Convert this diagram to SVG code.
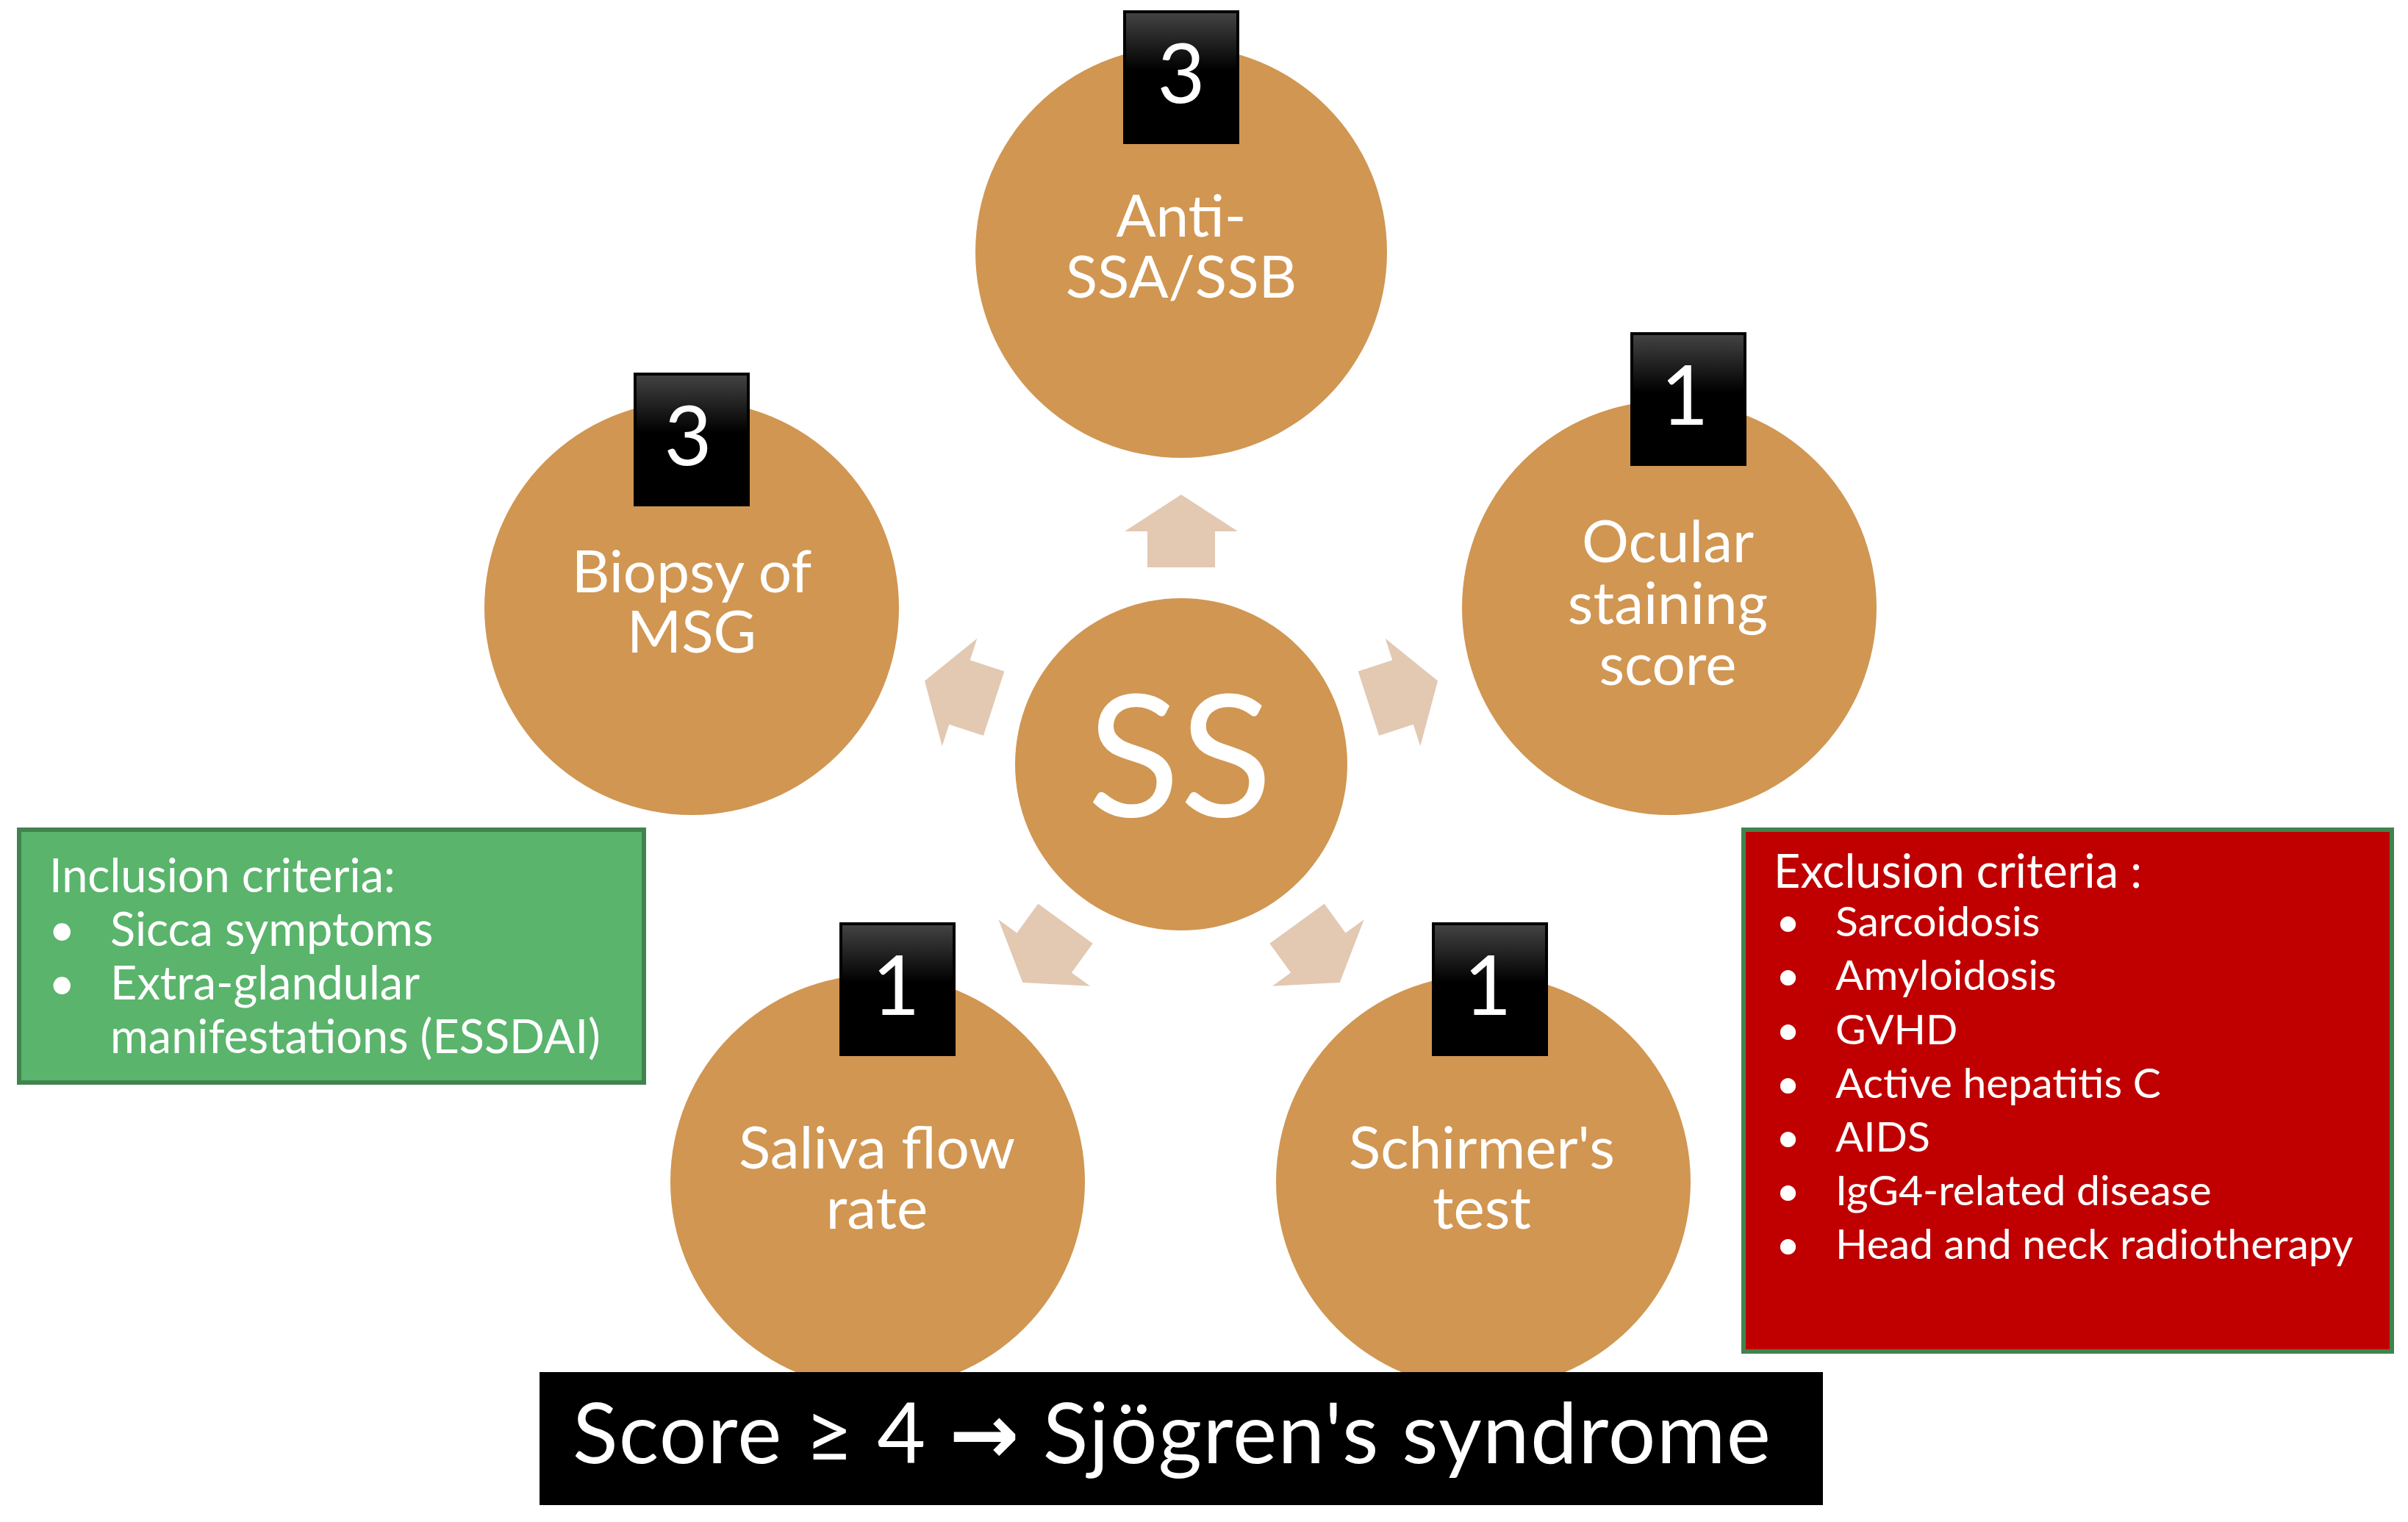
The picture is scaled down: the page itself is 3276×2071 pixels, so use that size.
<svg xmlns="http://www.w3.org/2000/svg" xmlns:xlink="http://www.w3.org/1999/xlink" width="3276" height="2071" viewBox="0 0 3276 2071">
<defs>
  <linearGradient id="badgeGrad" x1="0" y1="0" x2="0" y2="1">
    <stop offset="0" stop-color="#444444"/>
    <stop offset="0.45" stop-color="#000000"/>
  </linearGradient>
  <path id="arrowShape" d="M0,-367 L77,-317 L46,-317 L46,-268 L-46,-268 L-46,-317 L-77,-317 Z"/>
</defs>
<style>
  .circle{fill:#D09652}
  .lbl{font-family:Lato,"Open Sans",sans-serif;fill:#ffffff;text-anchor:middle;font-size:80px}
  .badge{fill:url(#badgeGrad);stroke:#000000;stroke-width:4}
  .num{font-family:Lato,"Open Sans",sans-serif;fill:#ffffff;font-size:112px;text-anchor:middle}
  .arrow{fill:#E3C8B2}
  .boxtxt{font-family:Lato,"Open Sans",sans-serif;fill:#ffffff;font-size:63px}
  .item{font-family:Lato,"Open Sans",sans-serif;fill:#ffffff;font-size:57px}
</style>
<rect width="3276" height="2071" fill="#ffffff"/>

<g id="connectors">
  <use xlink:href="#arrowShape" class="arrow" transform="translate(1607,1040)"/>
  <use xlink:href="#arrowShape" class="arrow" transform="translate(1607,1040) rotate(72)"/>
  <use xlink:href="#arrowShape" class="arrow" transform="translate(1607,1040) rotate(144)"/>
  <use xlink:href="#arrowShape" class="arrow" transform="translate(1607,1040) rotate(-144)"/>
  <use xlink:href="#arrowShape" class="arrow" transform="translate(1607,1040) rotate(-72)"/>
</g>

<g id="node-ss">
  <circle class="circle" cx="1607" cy="1040" r="226"/>
  <text class="lbl" x="1605" y="1111" style="font-size:232px">SS</text>
</g>

<g id="node-anti">
  <circle class="circle" cx="1607" cy="343" r="280"/>
  <text class="lbl" x="1607" y="322">Anti-</text>
  <text class="lbl" x="1607" y="405">SSA/SSB</text>
  <rect class="badge" x="1530" y="16" width="154" height="178"/>
  <text class="num" x="1607" y="140">3</text>
</g>

<g id="node-biopsy">
  <circle class="circle" cx="941" cy="827" r="282"/>
  <text class="lbl" x="941" y="806">Biopsy of</text>
  <text class="lbl" x="941" y="888">MSG</text>
  <rect class="badge" x="864" y="509" width="154" height="178"/>
  <text class="num" x="936" y="633">3</text>
</g>

<g id="node-ocular">
  <circle class="circle" cx="2271" cy="827" r="282"/>
  <text class="lbl" x="2269" y="765">Ocular</text>
  <text class="lbl" x="2269" y="849">staining</text>
  <text class="lbl" x="2269" y="932">score</text>
  <rect class="badge" x="2220" y="454" width="154" height="178"/>
  <text class="num" x="2292" y="578">1</text>
</g>

<g id="node-saliva">
  <circle class="circle" cx="1194" cy="1608" r="282"/>
  <text class="lbl" x="1193" y="1590">Saliva flow</text>
  <text class="lbl" x="1193" y="1672">rate</text>
  <rect class="badge" x="1144" y="1257" width="154" height="178"/>
  <text class="num" x="1219" y="1381">1</text>
</g>

<g id="node-schirmer">
  <circle class="circle" cx="2018" cy="1608" r="282"/>
  <text class="lbl" x="2016" y="1590">Schirmer's</text>
  <text class="lbl" x="2016" y="1672">test</text>
  <rect class="badge" x="1950" y="1257" width="154" height="178"/>
  <text class="num" x="2024" y="1381">1</text>
</g>

<g id="node-inclusion">
  <rect x="26" y="1129" width="850" height="344" fill="#5AB46C" stroke="#41834F" stroke-width="6"/>
  <text class="boxtxt" x="67" y="1214">Inclusion criteria:</text>
  <text class="boxtxt" x="66" y="1287">•</text>
  <text class="boxtxt" x="150" y="1287">Sicca symptoms</text>
  <text class="boxtxt" x="66" y="1360">•</text>
  <text class="boxtxt" x="150" y="1360">Extra-glandular</text>
  <text class="boxtxt" x="150" y="1433">manifestations (ESSDAI)</text>
</g>

<g id="node-exclusion">
  <rect x="2372" y="1129" width="882" height="710" fill="#C00000" stroke="#41834F" stroke-width="6"/>
  <text class="boxtxt" x="2413" y="1208">Exclusion criteria :</text>
  <g class="item">
    <text x="2416" y="1274">•</text><text x="2497" y="1274">Sarcoidosis</text>
    <text x="2416" y="1347">•</text><text x="2497" y="1347">Amyloidosis</text>
    <text x="2416" y="1421">•</text><text x="2497" y="1421">GVHD</text>
    <text x="2416" y="1494">•</text><text x="2497" y="1494">Active hepatitis C</text>
    <text x="2416" y="1567">•</text><text x="2497" y="1567">AIDS</text>
    <text x="2416" y="1640">•</text><text x="2497" y="1640">IgG4-related disease</text>
    <text x="2416" y="1713">•</text><text x="2497" y="1713">Head and neck radiotherapy</text>
  </g>
</g>

<g id="node-score">
  <rect x="734" y="1867" width="1746" height="181" fill="#000000"/>
  <text x="779" y="1991" textLength="1630" lengthAdjust="spacing" style="font-family:Lato,'Open Sans',sans-serif;font-size:114px;fill:#ffffff">Score ≥ 4 <tspan style="font-family:'DejaVu Sans',sans-serif;font-weight:bold">→</tspan> Sjögren's syndrome</text>
</g>
</svg>
